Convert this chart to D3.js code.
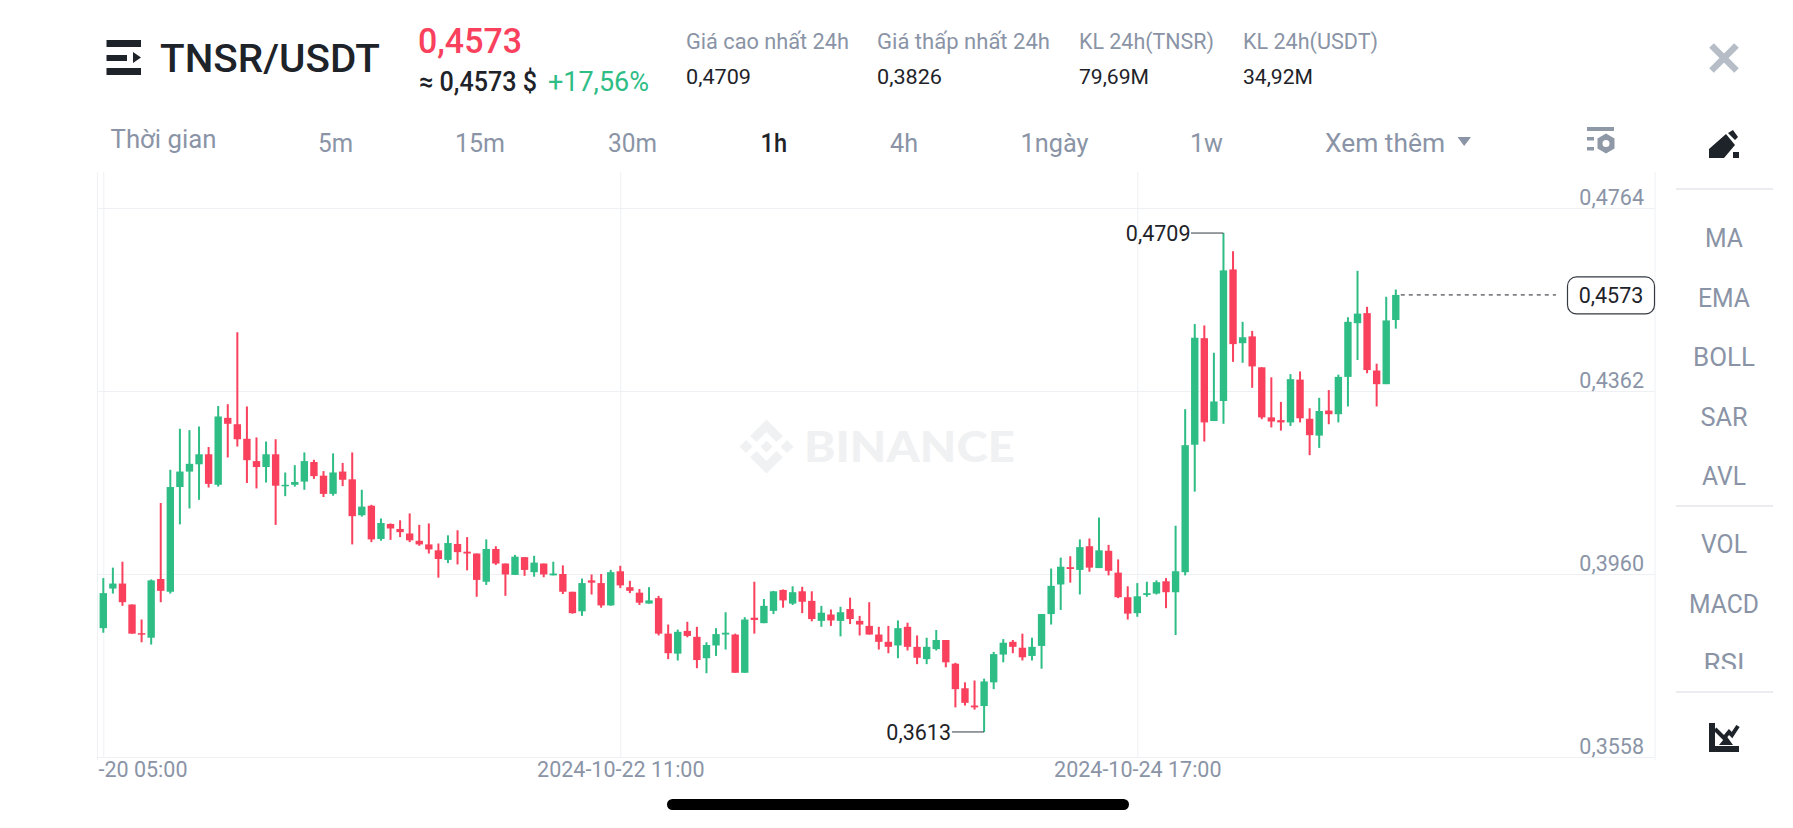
<!DOCTYPE html>
<html>
<head>
<meta charset="utf-8">
<script src="https://cdn.jsdelivr.net/npm/d3@7"></script>
<style>
  html, body { margin: 0; background: #fff; }
  svg { display: block; }
  text { font-family: Roboto, sans-serif; }
</style>
</head>
<body>
<div id="chart"></div>
<script>
// hourly candles, 2024-10-20 05:00 onwards
var opens = [
  0.3841,0.3928,0.3939,0.3893,0.3830,0.3820,0.3949,0.3921,0.4151,0.4185,
  0.4201,0.4223,0.4156,0.4303,0.4289,0.4257,0.4208,0.4195,0.4223,0.4153,
  0.4156,0.4163,0.4206,0.4176,0.4136,0.4185,0.4168,0.4089,0.4110,0.4037,
  0.4070,0.4059,0.4049,0.4033,0.4025,0.4012,0.3991,0.4026,0.4009,0.4005,
  0.3943,0.4015,0.3983,0.3958,0.3997,0.3964,0.3983,0.3957,0.3960,0.3921,
  0.3878,0.3946,0.3940,0.3891,0.3966,0.3931,0.3919,0.3895,0.3907,0.3829,
  0.3785,0.3835,0.3822,0.3775,0.3803,0.3827,0.3827,0.3743,0.3864,0.3852,
  0.3879,0.3925,0.3895,0.3922,0.3901,0.3857,0.3871,0.3857,0.3883,0.3857,
  0.3846,0.3827,0.3811,0.3803,0.3844,0.3800,0.3773,0.3795,0.3815,0.3763,
  0.3709,0.3671,0.3670,0.3722,0.3783,0.3811,0.3798,0.3780,0.3802,0.3872,
  0.3937,0.3975,0.3969,0.4021,0.3973,0.4011,0.3963,0.3909,0.3874,0.3914,
  0.3917,0.3944,0.3920,0.3964,0.4244,0.4478,0.4296,0.4340,0.4629,0.4467,
  0.4482,0.4414,0.4304,0.4298,0.4293,0.4387,0.4301,0.4264,0.4319,0.4311,
  0.4393,0.4511,0.4533,0.4407,0.4377,0.4518
];
var closes = [
  0.3918,0.3939,0.3898,0.3829,0.3828,0.3946,0.3923,0.4151,0.4185,0.4202,
  0.4223,0.4158,0.4306,0.4290,0.4256,0.4210,0.4195,0.4223,0.4154,0.4156,
  0.4162,0.4208,0.4175,0.4136,0.4183,0.4167,0.4087,0.4108,0.4036,0.4072,
  0.4060,0.4052,0.4034,0.4025,0.4014,0.3993,0.4028,0.4008,0.4005,0.3947,
  0.4015,0.3983,0.3959,0.3998,0.3969,0.3985,0.3959,0.3961,0.3921,0.3874,
  0.3940,0.3941,0.3891,0.3964,0.3935,0.3923,0.3897,0.3902,0.3829,0.3786,
  0.3833,0.3824,0.3771,0.3804,0.3828,0.3831,0.3743,0.3860,0.3859,0.3890,
  0.3922,0.3902,0.3920,0.3899,0.3861,0.3875,0.3858,0.3876,0.3861,0.3849,
  0.3827,0.3811,0.3800,0.3841,0.3800,0.3776,0.3800,0.3815,0.3766,0.3707,
  0.3677,0.3667,0.3724,0.3784,0.3809,0.3800,0.3777,0.3800,0.3872,0.3934,
  0.3976,0.3971,0.4019,0.3974,0.4012,0.3967,0.3909,0.3873,0.3911,0.3918,
  0.3942,0.3920,0.3966,0.4243,0.4479,0.4293,0.4339,0.4627,0.4465,0.4480,
  0.4416,0.4304,0.4295,0.4293,0.4388,0.4302,0.4265,0.4318,0.4311,0.4393,
  0.4514,0.4532,0.4408,0.4377,0.4517,0.4573
];
var highs = [
  0.3951,0.3974,0.3987,0.3893,0.3860,0.3948,0.4116,0.4189,0.4279,0.4276,
  0.4284,0.4239,0.4329,0.4333,0.4491,0.4328,0.4260,0.4251,0.4256,0.4183,
  0.4199,0.4227,0.4211,0.4186,0.4225,0.4204,0.4227,0.4145,0.4112,0.4082,
  0.4071,0.4078,0.4093,0.4068,0.4071,0.4027,0.4045,0.4056,0.4041,0.4005,
  0.4036,0.4021,0.3983,0.4002,0.3997,0.4000,0.3983,0.3987,0.3979,0.3921,
  0.3950,0.3959,0.3960,0.3969,0.3978,0.3945,0.3927,0.3931,0.3912,0.3849,
  0.3838,0.3855,0.3844,0.3810,0.3841,0.3876,0.3829,0.3865,0.3943,0.3905,
  0.3923,0.3926,0.3933,0.3932,0.3922,0.3890,0.3882,0.3888,0.3908,0.3868,
  0.3898,0.3844,0.3846,0.3858,0.3853,0.3825,0.3820,0.3837,0.3815,0.3765,
  0.3722,0.3726,0.3730,0.3789,0.3817,0.3815,0.3829,0.3820,0.3872,0.3972,
  0.3996,0.3999,0.4036,0.4038,0.4084,0.4024,0.3992,0.3933,0.3940,0.3943,
  0.3946,0.3951,0.4066,0.4322,0.4509,0.4506,0.4446,0.4709,0.4669,0.4514,
  0.4494,0.4414,0.4392,0.4338,0.4399,0.4405,0.4324,0.4347,0.4364,0.4398,
  0.4524,0.4626,0.4547,0.4422,0.4569,0.4585
];
var lows = [
  0.3831,0.3917,0.3890,0.3829,0.3810,0.3805,0.3898,0.3917,0.4069,0.4104,
  0.4123,0.4150,0.4152,0.4216,0.4240,0.4160,0.4148,0.4161,0.4068,0.4131,
  0.4152,0.4145,0.4169,0.4129,0.4132,0.4153,0.4025,0.4086,0.4030,0.4033,
  0.4035,0.4041,0.4030,0.4022,0.4005,0.3952,0.3984,0.3981,0.3968,0.3910,
  0.3936,0.3980,0.3912,0.3958,0.3956,0.3954,0.3953,0.3957,0.3916,0.3873,
  0.3868,0.3915,0.3886,0.3890,0.3929,0.3918,0.3892,0.3895,0.3825,0.3773,
  0.3770,0.3821,0.3753,0.3742,0.3780,0.3794,0.3743,0.3743,0.3829,0.3852,
  0.3872,0.3886,0.3892,0.3874,0.3856,0.3844,0.3846,0.3823,0.3850,0.3825,
  0.3827,0.3794,0.3786,0.3775,0.3792,0.3762,0.3762,0.3792,0.3755,0.3667,
  0.3671,0.3662,0.3613,0.3707,0.3766,0.3786,0.3770,0.3770,0.3752,0.3849,
  0.3881,0.3941,0.3915,0.3965,0.3973,0.3957,0.3907,0.3860,0.3866,0.3910,
  0.3915,0.3885,0.3826,0.3957,0.4141,0.4251,0.4296,0.4290,0.4426,0.4424,
  0.4369,0.4300,0.4282,0.4275,0.4285,0.4293,0.4221,0.4237,0.4289,0.4293,
  0.4328,0.4430,0.4401,0.4328,0.4377,0.4499
];

var yTicks = [0.3558, 0.3960, 0.4362, 0.4764];
var xTickDates = [Date.UTC(2024, 9, 20, 5), Date.UTC(2024, 9, 22, 11), Date.UTC(2024, 9, 24, 17)];
var xTickLabels = ["-20 05:00", "2024-10-22 11:00", "2024-10-24 17:00"];
var lastPrice = 0.4573, highPrice = 0.4709, lowPrice = 0.3613;

var statTitles = ["Giá cao nhất 24h", "Giá thấp nhất 24h", "KL 24h(TNSR)", "KL 24h(USDT)"];
var statValues = ["0,4709", "0,3826", "79,69M", "34,92M"];
var tabLabels = ["Thời gian", "5m", "15m", "30m", "1h", "4h", "1ngày", "1w", "Xem thêm"];
var sideLabels = ["MA", "EMA", "BOLL", "SAR", "AVL", "VOL", "MACD", "RSI"];

var green = "#2ebd85", red = "#f9405c", dark = "#1e2329", gray = "#8a94a6", gridColor = "#eef0f3";
var commaFormat = function(d) { return d.toFixed(4).replace(".", ","); };

var svg = d3.select("#chart").append("svg").attr("width", 1793).attr("height", 828);

// text with a fixed width, the app font is narrower than anything installed
function label(x, y, str, width, size, color, weight, family) {
  var t = svg.append("text")
    .attr("x", x).attr("y", y)
    .attr("font-size", size)
    .attr("font-weight", weight || 400)
    .attr("fill", color)
    .text(str);
  if (family) t.style("font-family", family);
  if (width) t.attr("textLength", width).attr("lengthAdjust", "spacingAndGlyphs");
  return t;
}

// ---- header ----
svg.append("path").attr("fill", dark)
  .attr("d", "M106.5 40H141V47H106.5ZM106.5 55H127V61H106.5ZM133 52L141 57.5L133 63ZM106.5 68H141V75H106.5Z");
label(160, 72, "TNSR/USDT", 220, 38, dark, 500);
label(418, 53, "0,4573", 104, 35, red, 500);
label(419, 91, "≈ 0,4573 $", 118, 27, dark, 500);
label(548, 91, "+17,56%", 101, 27, green, 400);

var statX = [686, 877, 1079, 1243];
var statW = [163, 173, 135, 135];
var statValW = [65, 65, 70, 70];
statTitles.forEach(function(s, i) {
  label(statX[i], 49, s, statW[i], 22, gray);
  label(statX[i], 84, statValues[i], statValW[i], 21, dark);
});

// ---- interval tabs ----
var tabX = [110.5, 318, 455, 608, 760.5, 890, 1020.5, 1190, 1325];
var tabW = [106, 35, 50, 49, 26.5, 28, 68, 33, 120];
var tabY = [148, 152, 152, 152, 152, 152, 152, 152, 152];
tabLabels.forEach(function(s, i) {
  label(tabX[i], tabY[i], s, tabW[i], 25, s == "1h" ? dark : gray, s == "1h" ? 500 : 400);
});
svg.append("path").attr("fill", gray).attr("d", "M1457.5 137H1471L1464.2 146Z");

// ---- watermark ----
var mark = svg.append("g").attr("fill", "#f0f1f2");
mark.append("path").attr("transform", "translate(766.5,446.5)")
  .attr("d", "M0 -6L6 0L0 6L-6 0Z M-27 0L-20.5 -6.5L-14 0L-20.5 6.5Z M27 0L20.5 -6.5L14 0L20.5 6.5Z" +
    "M0 -27L16.5 -10.5L10 -4.5L0 -14.5L-10 -4.5L-16.5 -10.5Z M0 27L16.5 10.5L10 4.5L0 14.5L-10 4.5L-16.5 10.5Z");
label(804, 461.5, "BINANCE", 211, 42, "#f0f1f2", 900, "Lato, Roboto, sans-serif");

// ---- scales and axes ----
var x = d3.scaleUtc().domain([xTickDates[0], xTickDates[2]]).range([103.3, 1137.3]);
var y = d3.scaleLinear().domain([yTicks[0], yTicks[3]]).range([757, 208]);
var plotLeft = 97.5, plotRight = 1655, plotTop = 172, plotBottom = y(yTicks[0]);

var xAxis = svg.append("g")
  .attr("transform", "translate(0," + plotBottom + ")")
  .call(d3.axisBottom(x).tickValues(xTickDates).tickSize(plotTop - plotBottom).tickPadding(0)
    .tickFormat(function(d, i) { return xTickLabels[i]; }));
xAxis.select(".domain").remove();
xAxis.selectAll("line").attr("stroke", gridColor).attr("stroke-width", 1);
xAxis.selectAll("text")
  .attr("y", 20).attr("dy", 0)
  .attr("font-size", 21.5)
  .attr("fill", gray)
  .style("font-family", "Roboto, sans-serif")
  .each(function(d, i) {
    // the first label is cut by the left edge of the plot
    if (i == 0) d3.select(this).attr("text-anchor", "start").attr("x", 0.5 + plotLeft - x(d));
  });

var yAxis = svg.append("g")
  .attr("transform", "translate(" + plotRight + ",0)")
  .call(d3.axisLeft(y).tickValues(yTicks).tickSize(plotRight - plotLeft).tickPadding(0).tickFormat(commaFormat));
yAxis.select(".domain").remove();
yAxis.selectAll("line").attr("stroke", gridColor).attr("stroke-width", 1);
yAxis.selectAll("text")
  .attr("x", -11).attr("y", -3.5).attr("dy", 0)
  .attr("text-anchor", "end")
  .attr("font-size", 21.5)
  .attr("fill", gray)
  .style("font-family", "Roboto, sans-serif");

// plot borders
svg.append("line").attr("x1", plotLeft).attr("x2", plotLeft).attr("y1", plotTop).attr("y2", plotBottom + 3)
  .attr("stroke", gridColor);
svg.append("line").attr("x1", plotRight).attr("x2", plotRight).attr("y1", plotTop).attr("y2", plotBottom + 3)
  .attr("stroke", gridColor);

// ---- candles ----
var candleData = d3.range(opens.length).map(function(i) {
  return {
    date: xTickDates[0] + i * 3600000,
    open: opens[i], high: highs[i], low: lows[i], close: closes[i]
  };
});
var colorOf = function(d) { return d.close >= d.open ? green : red; };
var hourWidth = x(xTickDates[0] + 3600000) - x(xTickDates[0]);
var bodyWidth = hourWidth - 2.2;

var gc = svg.append("g").selectAll("g").data(candleData).enter().append("g");
gc.append("rect")
  .attr("x", function(d) { return x(d.date) - 1; })
  .attr("width", 2)
  .attr("y", function(d) { return y(d.high); })
  .attr("height", function(d) { return y(d.low) - y(d.high); })
  .attr("fill", colorOf);
gc.append("rect")
  .attr("x", function(d) { return x(d.date) - bodyWidth / 2; })
  .attr("width", bodyWidth)
  .attr("y", function(d) { return y(Math.max(d.open, d.close)); })
  .attr("height", function(d) { return Math.max(y(Math.min(d.open, d.close)) - y(Math.max(d.open, d.close)), 1.5); })
  .attr("fill", colorOf);

// high / low callouts
var hiIndex = highs.indexOf(highPrice), loIndex = lows.indexOf(lowPrice);
svg.append("line")
  .attr("x1", 1191).attr("x2", x(candleData[hiIndex].date))
  .attr("y1", y(highPrice)).attr("y2", y(highPrice))
  .attr("stroke", "#333a42").attr("stroke-width", 1);
svg.append("text").attr("x", 1190.5).attr("y", y(highPrice) + 8).attr("text-anchor", "end")
  .attr("font-size", 21.5).attr("fill", dark).text(commaFormat(highPrice));
svg.append("line")
  .attr("x1", 952).attr("x2", x(candleData[loIndex].date))
  .attr("y1", y(lowPrice)).attr("y2", y(lowPrice))
  .attr("stroke", "#333a42").attr("stroke-width", 1);
svg.append("text").attr("x", 951).attr("y", y(lowPrice) + 8).attr("text-anchor", "end")
  .attr("font-size", 21.5).attr("fill", dark).text(commaFormat(lowPrice));

// last price line and box
svg.append("line")
  .attr("x1", x(candleData[candleData.length - 1].date) + 5).attr("x2", 1556)
  .attr("y1", y(lastPrice)).attr("y2", y(lastPrice))
  .attr("stroke", dark).attr("stroke-width", 1).attr("stroke-dasharray", "4 4");
svg.append("rect")
  .attr("x", 1567.5).attr("y", y(lastPrice) - 18).attr("width", 87).attr("height", 37).attr("rx", 9)
  .attr("fill", "#fff").attr("stroke", "#333a42").attr("stroke-width", 1.2);
svg.append("text").attr("x", 1611).attr("y", y(lastPrice) + 8).attr("text-anchor", "middle")
  .attr("font-size", 21.5).attr("fill", dark).text(commaFormat(lastPrice));

// ---- right panel ----
svg.append("path").attr("stroke", "#b7bdc6").attr("stroke-width", 6.5).attr("fill", "none")
  .attr("d", "M1711.5 45.5L1736.5 70.5M1736.5 45.5L1711.5 70.5");
// settings icon
svg.append("path").attr("fill", "#8f98a6").attr("fill-rule", "evenodd")
  .attr("d", "M1587 127H1614V131H1587ZM1587 137H1594V140.5H1587ZM1587 147H1594V150.5H1587Z" +
    "M1606 133.5L1614.5 138.5V148.5L1606 153.5L1597.5 148.5V138.5Z" +
    "M1606 140A3.5 3.5 0 1 0 1606 147A3.5 3.5 0 1 0 1606 140Z");
// pen icon
svg.append("path").attr("fill", dark)
  .attr("d", "M1709 158V149L1726 134L1735 145L1724 158Z M1728 133L1733 130L1738 137L1735 140Z M1733 152H1739V158H1733Z");
// chart icon
svg.append("path").attr("fill", dark)
  .attr("d", "M1709 723H1715V746H1739V752H1709Z M1719 745L1726.5 736L1733 745Z");
svg.append("path").attr("fill", "none").attr("stroke", dark).attr("stroke-width", 4)
  .attr("d", "M1715 729L1724 738L1729 732L1732 735L1738 726");

[189, 506, 692].forEach(function(py) {
  svg.append("line").attr("x1", 1676).attr("x2", 1773).attr("y1", py).attr("y2", py)
    .attr("stroke", "#eaecef").attr("stroke-width", 2);
});

var sideY = [247, 307, 366, 426, 485, 553, 613, 672];
var sideW = [38, 52, 62, 47, 44, 46, 70, 41];
svg.append("clipPath").attr("id", "side-clip").append("rect")
  .attr("x", 1660).attr("y", 170).attr("width", 133).attr("height", 499);
var sideG = svg.append("g").attr("clip-path", "url(#side-clip)");
sideLabels.forEach(function(s, i) {
  sideG.append("text")
    .attr("x", 1724).attr("y", sideY[i]).attr("text-anchor", "middle")
    .attr("font-size", 25).attr("fill", gray)
    .attr("textLength", sideW[i]).attr("lengthAdjust", "spacingAndGlyphs")
    .text(s);
});

// home indicator
svg.append("rect").attr("x", 667).attr("y", 799).attr("width", 462).attr("height", 11).attr("rx", 5.5).attr("fill", "#000");
</script>
</body>
</html>
